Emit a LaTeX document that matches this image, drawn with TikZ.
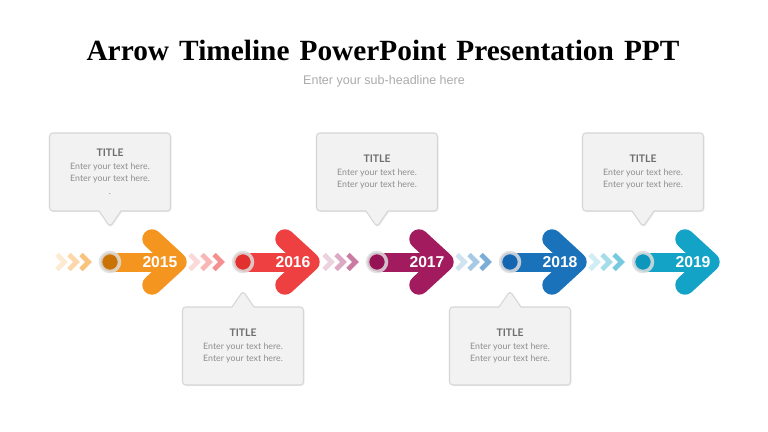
\documentclass[tikz,border=0pt]{standalone}
\usepackage{fontspec}
\setmainfont{Liberation Serif}
\setsansfont{Lato}
\newfontfamily\yearfont{Liberation Sans}
\usetikzlibrary{positioning,calc,shapes.callouts,shadows}

\definecolor{orng}{HTML}{F4951F}
\definecolor{orngdark}{HTML}{C97206}
\definecolor{rd}{HTML}{EE4040}
\definecolor{rddark}{HTML}{E2302F}
\definecolor{plum}{HTML}{A21B5E}
\definecolor{plumdark}{HTML}{951255}
\definecolor{blu}{HTML}{1A72BA}
\definecolor{bludark}{HTML}{1466B0}
\definecolor{cyn}{HTML}{12A3C7}
\definecolor{cyndark}{HTML}{0E97BC}
\definecolor{boxgray}{HTML}{F2F2F2}
\definecolor{boxline}{HTML}{D6D6D6}
\definecolor{titlegray}{HTML}{6E6E6E}
\definecolor{textgray}{HTML}{8E8E8E}

\begin{document}
\begin{tikzpicture}[x=0.75pt, y=-0.75pt,
                    dot/.style={circle,inner sep=0pt,minimum size=14.25pt,draw=black!13,draw opacity=0.85,line width=2.6pt},
                    year/.style={text=white,font=\yearfont\bfseries\fontsize{11.8}{12}\selectfont},
                    chev/.style={line width=3.6pt,line join=miter},
                    head/.style={line width=14.6pt,line cap=round,line join=round},
                    call box/.style={rectangle callout,fill=boxgray,draw=boxline,line width=0.8pt,
                      rounded corners=2.5pt,minimum width=90.75pt,minimum height=58.5pt,
                      callout pointer width=16.5pt,align=center,text=textgray,
                      font=\sffamily\fontsize{6.6}{9.4}\selectfont,
                      drop shadow={opacity=0.12,shadow xshift=0.8pt,shadow yshift=-0.8pt}}]

  \fill[white] (0,0) rectangle (768,432);
  \useasboundingbox (0,0) rectangle (768,432);

  \node[font=\bfseries\fontsize{22}{26}\selectfont] (title) at (383,50)
    {\spaceskip=7.6pt Arrow Timeline PowerPoint Presentation PPT};
  \node[font=\yearfont\fontsize{9.4}{11}\selectfont,text=black!33] (sub) at (384,81) {Enter your sub-headline here};

  \coordinate (pos15) at (110,262);
  \coordinate (pos16) at (243,262);
  \coordinate (pos17) at (377,262);
  \coordinate (pos18) at (510,262);
  \coordinate (pos19) at (643,262);

  % chevrons
  \draw[chev,orng!20] ($(pos15)+(-53,-7.5)$) -- ++(7.5,7.5) -- ++(-7.5,7.5);
  \draw[chev,orng!38] ($(pos15)+(-41,-7.5)$) -- ++(7.5,7.5) -- ++(-7.5,7.5);
  \draw[chev,orng!58] ($(pos15)+(-29,-7.5)$) -- ++(7.5,7.5) -- ++(-7.5,7.5);

  \draw[chev,rd!20] ($(pos16)+(-53,-7.5)$) -- ++(7.5,7.5) -- ++(-7.5,7.5);
  \draw[chev,rd!38] ($(pos16)+(-41,-7.5)$) -- ++(7.5,7.5) -- ++(-7.5,7.5);
  \draw[chev,rd!58] ($(pos16)+(-29,-7.5)$) -- ++(7.5,7.5) -- ++(-7.5,7.5);

  \draw[chev,plum!20] ($(pos17)+(-53,-7.5)$) -- ++(7.5,7.5) -- ++(-7.5,7.5);
  \draw[chev,plum!38] ($(pos17)+(-41,-7.5)$) -- ++(7.5,7.5) -- ++(-7.5,7.5);
  \draw[chev,plum!58] ($(pos17)+(-29,-7.5)$) -- ++(7.5,7.5) -- ++(-7.5,7.5);

  \draw[chev,blu!20] ($(pos18)+(-53,-7.5)$) -- ++(7.5,7.5) -- ++(-7.5,7.5);
  \draw[chev,blu!38] ($(pos18)+(-41,-7.5)$) -- ++(7.5,7.5) -- ++(-7.5,7.5);
  \draw[chev,blu!58] ($(pos18)+(-29,-7.5)$) -- ++(7.5,7.5) -- ++(-7.5,7.5);

  \draw[chev,cyn!20] ($(pos19)+(-53,-7.5)$) -- ++(7.5,7.5) -- ++(-7.5,7.5);
  \draw[chev,cyn!38] ($(pos19)+(-41,-7.5)$) -- ++(7.5,7.5) -- ++(-7.5,7.5);
  \draw[chev,cyn!58] ($(pos19)+(-29,-7.5)$) -- ++(7.5,7.5) -- ++(-7.5,7.5);

  % arrows
  \fill[orng] ($(pos15)+(0,-9.5)$) rectangle ++(60,19);
  \draw[head,orng] ($(pos15)+(42,-23)$) -- ($(pos15)+(67,0)$) -- ($(pos15)+(42,23)$);
  \fill[rd] ($(pos16)+(0,-9.5)$) rectangle ++(60,19);
  \draw[head,rd] ($(pos16)+(42,-23)$) -- ($(pos16)+(67,0)$) -- ($(pos16)+(42,23)$);
  \fill[plum] ($(pos17)+(0,-9.5)$) rectangle ++(60,19);
  \draw[head,plum] ($(pos17)+(42,-23)$) -- ($(pos17)+(67,0)$) -- ($(pos17)+(42,23)$);
  \fill[blu] ($(pos18)+(0,-9.5)$) rectangle ++(60,19);
  \draw[head,blu] ($(pos18)+(42,-23)$) -- ($(pos18)+(67,0)$) -- ($(pos18)+(42,23)$);
  \fill[cyn] ($(pos19)+(0,-9.5)$) rectangle ++(60,19);
  \draw[head,cyn] ($(pos19)+(42,-23)$) -- ($(pos19)+(67,0)$) -- ($(pos19)+(42,23)$);

  \node[dot,fill=orngdark] (c15) at (pos15) {};
  \node[dot,fill=rddark] (c16) at (pos16) {};
  \node[dot,fill=plumdark] (c17) at (pos17) {};
  \node[dot,fill=bludark] (c18) at (pos18) {};
  \node[dot,fill=cyndark] (c19) at (pos19) {};

  \node[year] (y15) at ($(pos15)+(50,0)$) {2015};
  \node[year] (y16) at ($(pos16)+(50,0)$) {2016};
  \node[year] (y17) at ($(pos17)+(50,0)$) {2017};
  \node[year] (y18) at ($(pos18)+(50,0)$) {2018};
  \node[year] (y19) at ($(pos19)+(50,0)$) {2019};

  % callouts
  \node[call box,callout absolute pointer={($(c15)+(0,-35)$)}] (box15) at (110,172)
    {{\bfseries\color{titlegray}\fontsize{7.8}{9.4}\selectfont TITLE}\\Enter your text here.\\Enter your text here.\\.};
  \node[call box,callout absolute pointer={($(c16)+(0,29)$)}] (box16) at (243,346)
    {{\bfseries\color{titlegray}\fontsize{7.8}{9.4}\selectfont TITLE}\\Enter your text here.\\Enter your text here.};
  \node[call box,callout absolute pointer={($(c17)+(0,-35)$)}] (box17) at (377,172)
    {{\bfseries\color{titlegray}\fontsize{7.8}{9.4}\selectfont TITLE}\\Enter your text here.\\Enter your text here.};
  \node[call box,callout absolute pointer={($(c18)+(0,29)$)}] (box18) at (510,346)
    {{\bfseries\color{titlegray}\fontsize{7.8}{9.4}\selectfont TITLE}\\Enter your text here.\\Enter your text here.};
  \node[call box,callout absolute pointer={($(c19)+(0,-35)$)}] (box19) at (643,172)
    {{\bfseries\color{titlegray}\fontsize{7.8}{9.4}\selectfont TITLE}\\Enter your text here.\\Enter your text here.};

\end{tikzpicture}
\end{document}
